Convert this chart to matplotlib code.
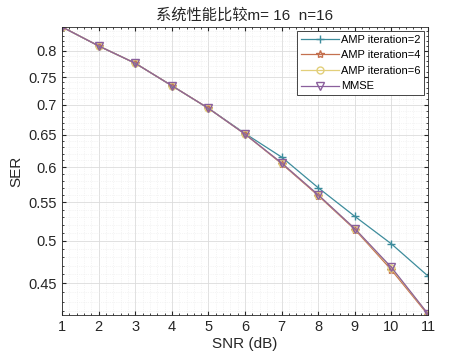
import matplotlib
matplotlib.use("Agg")
import matplotlib.pyplot as plt
from matplotlib.ticker import FixedLocator, MultipleLocator, NullFormatter, FixedFormatter

plt.rcParams['font.family'] = ['Liberation Sans', 'Noto Sans CJK SC', 'DejaVu Sans']

snr = [1, 2, 3, 4, 5, 6, 7, 8, 9, 10, 11]
amp2 = [0.849, 0.810, 0.776, 0.734, 0.694, 0.652, 0.615, 0.570, 0.531, 0.496, 0.458]
amp4 = [0.849, 0.810, 0.776, 0.734, 0.694, 0.651, 0.605, 0.559, 0.514, 0.465, 0.416]
amp6 = [0.849, 0.810, 0.776, 0.734, 0.694, 0.651, 0.606, 0.560, 0.515, 0.467, 0.417]
mmse = [0.849, 0.810, 0.776, 0.734, 0.694, 0.651, 0.606, 0.560, 0.515, 0.468, 0.417]
yticks = [0.45, 0.5, 0.55, 0.6, 0.65, 0.7, 0.75, 0.8]
ytick_labels = ["0.45", "0.5", "0.55", "0.6", "0.65", "0.7", "0.75", "0.8"]

fig = plt.figure(figsize=(4.74, 3.55), dpi=100)
ax = fig.add_axes([0.131, 0.113, 0.772, 0.811])

ax.semilogy(snr, amp2, '-+', color='#3d8c9c', lw=0.9, ms=6, label='AMP iteration=2')
ax.semilogy(snr, amp4, '-*', color='#c4704f', lw=0.9, ms=6, mfc='none', label='AMP iteration=4')
ax.semilogy(snr, amp6, '-o', color='#e2cf7a', lw=0.9, ms=5, mfc='none', label='AMP iteration=6')
ax.semilogy(snr, mmse, '-v', color='#8a5f9c', lw=0.9, ms=6, mfc='none', label='MMSE')

ax.set_xlim(1, 11)
ax.set_ylim(min(amp4), max(amp2))
ax.xaxis.set_major_locator(FixedLocator(snr))
ax.xaxis.set_minor_locator(MultipleLocator(0.2))
ax.yaxis.set_major_locator(FixedLocator(yticks))
ax.yaxis.set_major_formatter(FixedFormatter(ytick_labels))
ax.yaxis.set_minor_locator(MultipleLocator(0.01))
ax.yaxis.set_minor_formatter(NullFormatter())

ax.grid(True, which='major', color='#dcdcdc', lw=0.6)
ax.grid(True, which='minor', color='#ebebeb', lw=0.5, ls=':')
ax.tick_params(which='both', direction='in', top=True, right=True, labelsize=10.5, colors='#262626')
ax.tick_params(which='major', length=3)
ax.tick_params(which='minor', length=1.5)
for s in ax.spines.values():
    s.set_color('#262626')
    s.set_linewidth(0.6)

ax.set_xlabel('SNR (dB)', fontsize=11, color='#262626', labelpad=2)
ax.set_ylabel('SER', fontsize=11, color='#262626', labelpad=4)
ax.set_title('系统性能比较m= 16  n=16', fontsize=11, color='#262626', pad=5)

leg = ax.legend(loc='upper right', fontsize=8, fancybox=False, framealpha=1,
                edgecolor='#262626', borderaxespad=0.35, handlelength=3.4, handletextpad=0.2,
                labelspacing=0.5, borderpad=0.35)
leg.get_frame().set_linewidth(0.6)

fig.savefig('out.png', dpi=100)
